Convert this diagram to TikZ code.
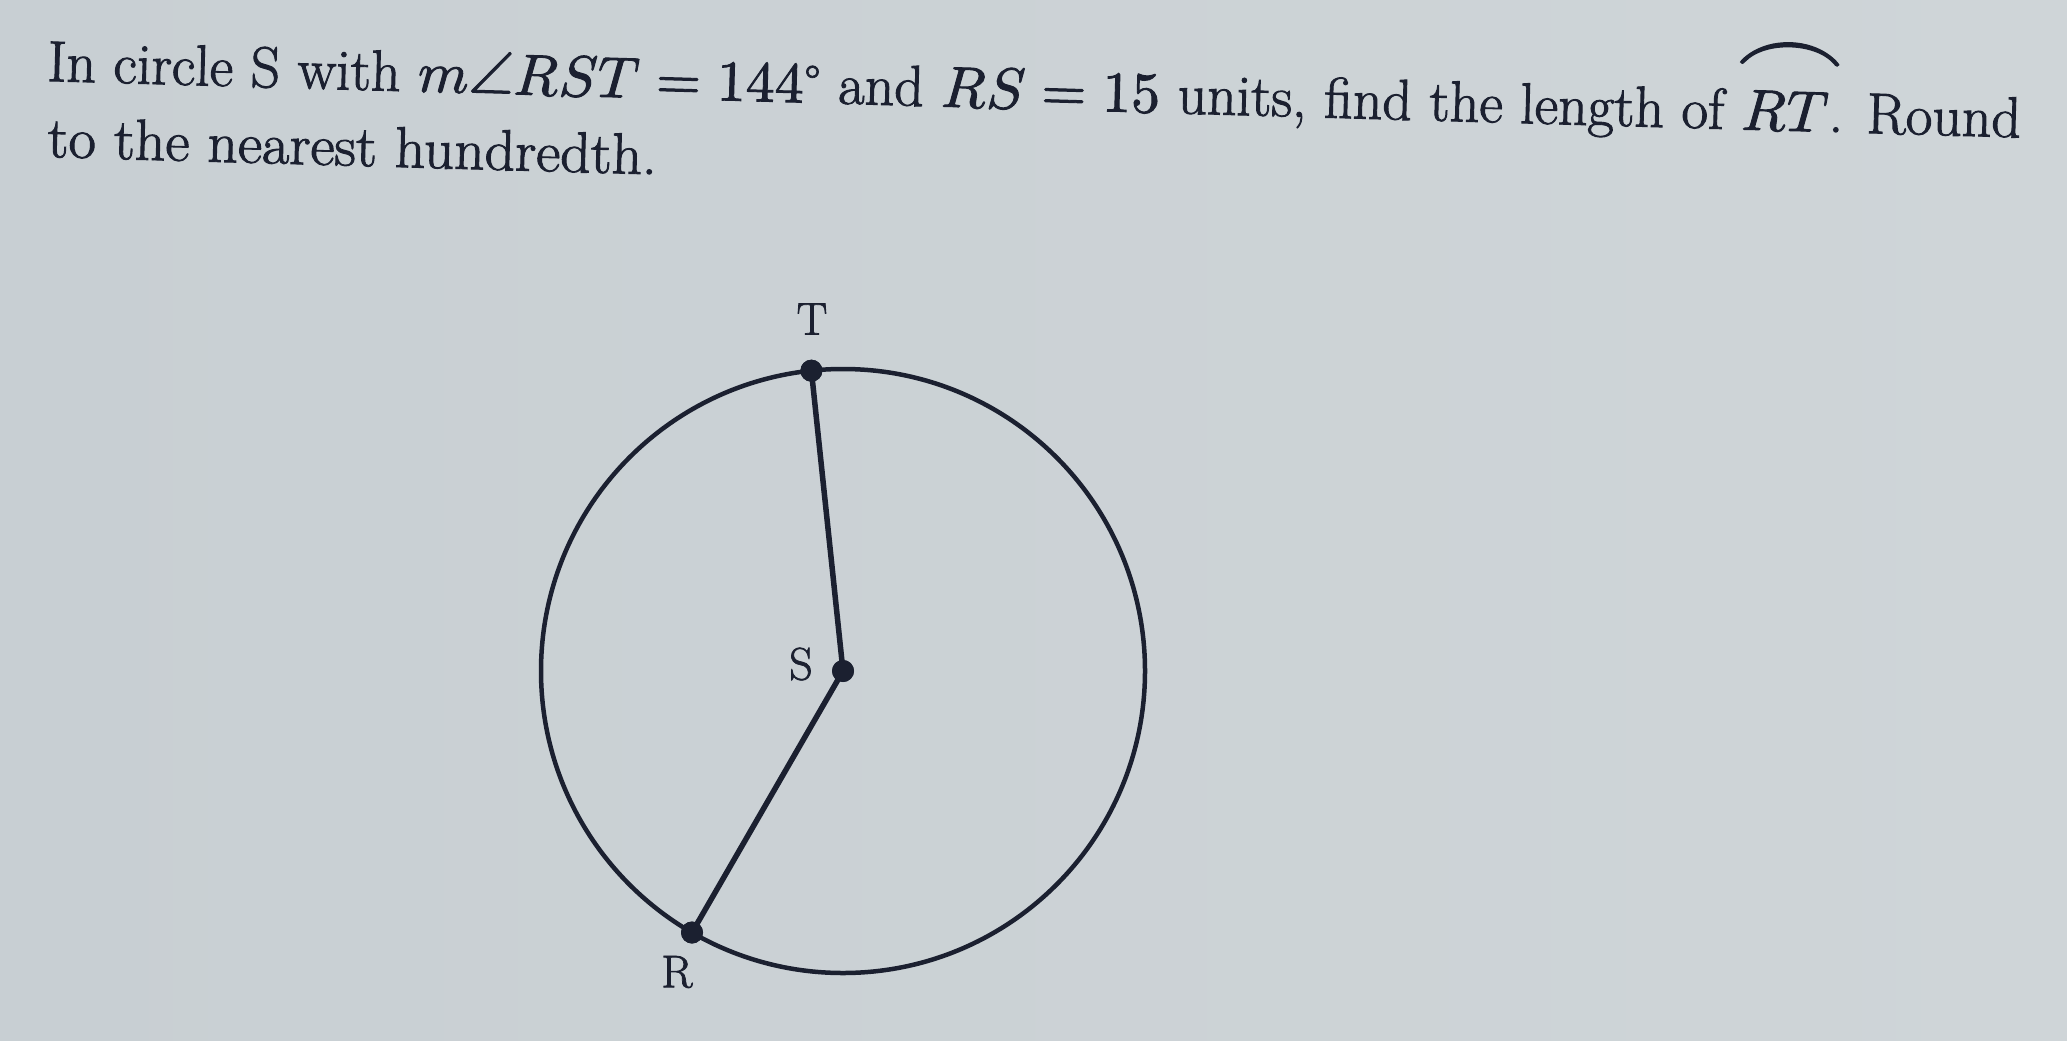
\documentclass[tikz,border=0pt]{standalone}
\usepackage{amsmath}
\usepackage{unicode-math}
\setmainfont{Latin Modern Roman}[FakeBold=1.6]
\setmathfont{Latin Modern Math}[FakeBold=1.6]
\definecolor{ink}{HTML}{1B2030}
\definecolor{bgl}{HTML}{C8CFD3}
\definecolor{bgm}{HTML}{DADFE2}
\definecolor{bgr}{HTML}{CFD5D8}
\newcommand{\arcover}[1]{\overset{\makebox[0pt]{\hspace{6bp}\raisebox{4bp}{\scalebox{1.9}[1.5]{$\frown$}}}}{#1}}
\begin{document}
\begin{tikzpicture}[x=1bp,y=-1bp,
  txt/.style={anchor=base west,inner sep=0pt,text=ink,rotate=-1.64,
    font=\fontsize{58}{60}\selectfont},
  lbl/.style={inner sep=0pt,text=ink,font=\fontsize{46}{48}\selectfont},
  edge/.style={draw=ink,line width=5.5bp},
  dot/.style={circle,fill=ink,inner sep=0pt,minimum size=22bp}]
\useasboundingbox (0,0) rectangle (2067,1040);
\shade[left color=bgl,middle color=bgm,right color=bgr] (0,0) rectangle (2067,1040);
% text
\node[txt] (line1) at (47,81) {In circle S with $m\angle RST = 144^\circ$ and $RS = 15$ units, find the length of $\arcover{RT}$. Round};
\node[txt] (line2) at (47,157) {\scalebox{1.03}[1]{to the nearest hundredth.}};
% geometry
\coordinate (C) at (843,671);
\draw[draw=ink,line width=4.5bp] (C) circle[radius=302bp];
\node[dot] (S) at (843,671) {};
\node[dot] (T) at (811.4,370.7) {};
\node[dot] (R) at (692,932.5) {};
\draw[edge] (T.center) -- (S.center) -- (R.center);
\node[dot] at (S) {};
\node[dot] at (T) {};
\node[dot] at (R) {};
\node[lbl] (Tl) at (812,319) {T};
\node[lbl] (Sl) at (801,664) {S};
\node[lbl] (Rl) at (677,972) {R};
\end{tikzpicture}
\end{document}
